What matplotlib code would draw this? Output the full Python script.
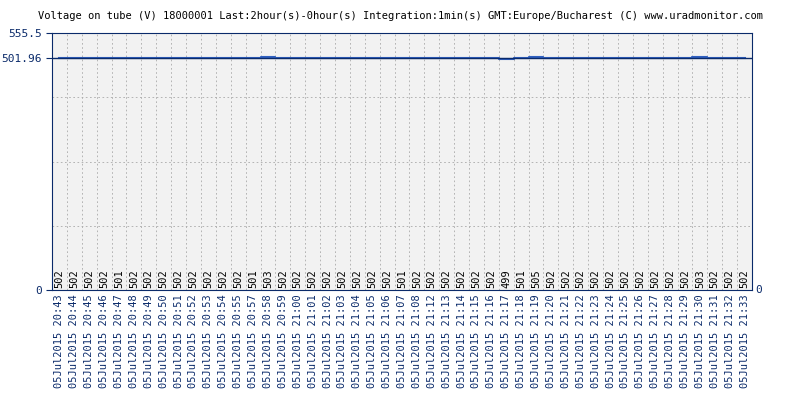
import numpy as np
import matplotlib.pyplot as plt

minutes = ["20:43", "20:44", "20:45", "20:46", "20:47", "20:48", "20:49", "20:50",
           "20:51", "20:52", "20:53", "20:54", "20:55", "20:57", "20:58", "20:59",
           "21:00", "21:01", "21:02", "21:03", "21:04", "21:05", "21:06", "21:07",
           "21:08", "21:12", "21:13", "21:14", "21:15", "21:16", "21:17", "21:18",
           "21:19", "21:20", "21:21", "21:22", "21:23", "21:24", "21:25", "21:26",
           "21:27", "21:28", "21:29", "21:30", "21:31", "21:32", "21:33"]
volts = [502, 502, 502, 502, 501, 502, 502, 502, 502, 502, 502, 502, 502, 501, 503, 502,
         502, 502, 502, 502, 502, 502, 502, 501, 502, 502, 502, 502, 502, 502, 499, 501,
         505, 502, 502, 502, 502, 502, 502, 502, 502, 502, 502, 503, 502, 502, 502]
labels = ["05Jul2015 " + m for m in minutes]
y_max = 555.5
avg = 501.96

navy = "#0a2a6a"
plt.rcParams['font.family'] = 'DejaVu Sans Mono'

fig = plt.figure(figsize=(8, 4), dpi=100)
ax = fig.add_axes([0.065, 0.275, 0.875, 0.642])
ax.set_facecolor("#f2f2f2")
x = np.arange(len(volts))
ax.set_xlim(-0.5, len(volts) - 0.5)
ax.set_ylim(0, y_max)

for b in np.arange(-0.5, len(volts), 1.0)[1:-1]:
    ax.axvline(b, color="#aaaaaa", lw=0.6, ls=(0, (2, 3)), zorder=1)
for q in [0.25, 0.5, 0.75]:
    ax.axhline(y_max * q, color="#aaaaaa", lw=0.6, ls=(0, (2, 3)), zorder=1)

ax.plot(x, volts, color="#3060c0", lw=1.5, drawstyle="steps-mid", zorder=2)
ax.axhline(avg, color=navy, lw=1, zorder=3)

for xi, v in zip(x, volts):
    ax.text(xi, 4, str(v), rotation=90, ha="center", va="bottom", fontsize=7.5, color="black")

ax.set_xticks(x)
ax.set_xticklabels(labels, rotation=90, fontsize=7.5, color=navy)
ax.tick_params(axis="x", length=0, pad=3)
ax.set_yticks([0, avg, y_max])
ax.set_yticklabels(["0", "501.96", "555.5"], fontsize=8, color=navy)
ax.tick_params(axis="y", length=4, color=navy)
ax.text(1.005, 0, "0", transform=ax.transAxes, fontsize=8, color=navy, va="center")
for s in ax.spines.values():
    s.set_color(navy)

fig.text(0.5, 0.96, "Voltage on tube (V) 18000001 Last:2hour(s)-0hour(s) Integration:1min(s) "
         "GMT:Europe/Bucharest (C) www.uradmonitor.com", ha="center", va="center", fontsize=7.5)

fig.savefig("out.png")
